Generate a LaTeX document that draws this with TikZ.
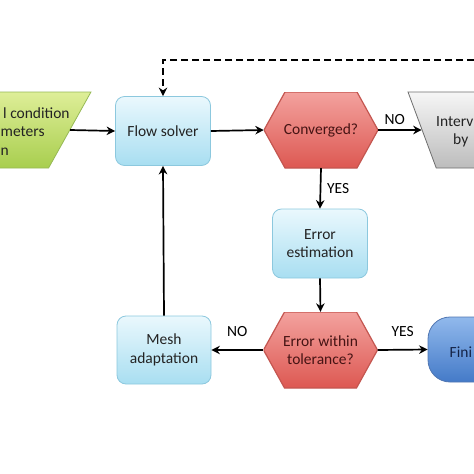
\documentclass[tikz,border=0pt]{standalone}
\usepackage{fontspec}
\setmainfont{Carlito}
\usetikzlibrary{arrows.meta,shapes.geometric}

\definecolor{boxtop}{RGB}{234,248,253}
\definecolor{boxbot}{RGB}{168,222,241}
\definecolor{boxline}{RGB}{140,200,222}
\definecolor{hextop}{RGB}{243,162,158}
\definecolor{hexbot}{RGB}{221,88,82}
\definecolor{hexline}{RGB}{196,86,80}
\definecolor{hextext}{RGB}{70,20,20}
\definecolor{greentop}{RGB}{222,238,152}
\definecolor{greenbot}{RGB}{168,206,78}
\definecolor{greenline}{RGB}{150,185,85}
\definecolor{graytop}{RGB}{246,246,246}
\definecolor{graybot}{RGB}{188,188,188}
\definecolor{grayline}{RGB}{110,110,110}
\definecolor{fintop}{RGB}{145,185,236}
\definecolor{finbot}{RGB}{68,122,200}
\definecolor{finline}{RGB}{80,118,178}
\definecolor{fintext}{RGB}{20,35,70}
\definecolor{labeltext}{RGB}{35,35,35}

\begin{document}
\begin{tikzpicture}[x=1pt, y=-1pt, font=\fontsize{15.5}{18.3}\selectfont,
    proc/.style={rectangle, rounded corners=9pt, draw=boxline, line width=0.8pt, top color=boxtop, bottom color=boxbot, text=labeltext, align=center, minimum width=95pt, minimum height=69pt, inner sep=0pt},
    hexa/.style={rectangle, minimum width=114pt, minimum height=76pt, inner sep=0pt, align=center, text=hextext, path picture={
        \shade[top color=hextop, bottom color=hexbot, draw=hexline, line width=1.2pt]
            (path picture bounding box.west) -- ([xshift=21pt]path picture bounding box.north west)
            -- ([xshift=-21pt]path picture bounding box.north east) -- (path picture bounding box.east)
            -- ([xshift=-21pt]path picture bounding box.south east) -- ([xshift=21pt]path picture bounding box.south west) -- cycle;}},
    flowline/.style={line width=1.7pt, -{Stealth[length=8.5pt,width=8.5pt]}},
    answer/.style={inner sep=0pt, text=black},
    cut/.style={inner sep=0pt, anchor=base west}]
    \useasboundingbox (0,0) rectangle (474,474);
    \clip (0,0) rectangle (474,474);
    \node[trapezium, trapezium left angle=66, trapezium right angle=114, trapezium stretches=true, minimum width=180pt, minimum height=76pt, draw=greenline, line width=0.8pt, top color=greentop, bottom color=greenbot] (cond) at (1,130) {};
    \node[proc] (flow) at (163,131) {Flow solver};
    \node[hexa] (conv) at (321,130) {Converged?};
    \node[trapezium, trapezium left angle=110, trapezium right angle=110, trapezium stretches=true, minimum width=134pt, minimum height=76pt, draw=grayline, line width=0.8pt, top color=graytop, bottom color=graybot] (interv) at (475,130) {};
    \node[proc] (est) at (320,243.5) {Error\\estimation};
    \node[hexa] (tol) at (320.5,350) {Error within\\tolerance?};
    \node[proc, minimum width=94pt, minimum height=68pt] (mesh) at (164,350) {Mesh\\adaptation};
    \node[rectangle, rounded corners=22pt, draw=finline, line width=0.8pt, top color=fintop, bottom color=finbot, minimum width=80pt, minimum height=65pt] (fin) at (468,349.5) {};
    \node[cut, text=labeltext] (condA) at (3,118) {l condition};
    \node[cut, text=labeltext] (condB) at (0.5,136.5) {meters};
    \node[cut, text=labeltext] (condC) at (0.5,155) {n};
    \node[cut, text=labeltext] (intA) at (436,126.5) {Interv};
    \node[cut, text=labeltext] (intB) at (453,144.5) {by};
    \node[cut, text=fintext] (finA) at (449.5,357) {Fini};
    \coordinate (loopin) at (474,60);
    \draw [flowline](cond.right side) -- (flow.west);
    \draw [flowline](flow.east) -- (conv.west);
    \draw [flowline](conv.east) -- node[answer, above=4.5pt, pos=0.38]{NO} (interv.left side);
    \draw [flowline](conv.south) -- node[answer, right=5.7pt]{YES} (est.north);
    \draw [flowline](est.south) -- (tol.north);
    \draw [flowline](tol.west) -- node[answer, above=12.6pt]{NO} (mesh.east);
    \draw [flowline](tol.east) -- node[answer, above=12.6pt]{YES} (fin.west);
    \draw [flowline](mesh.north) -- (flow.south);
    \draw [flowline, dash pattern=on 7pt off 4pt](loopin) -| (flow.north);
\end{tikzpicture}
\end{document}
